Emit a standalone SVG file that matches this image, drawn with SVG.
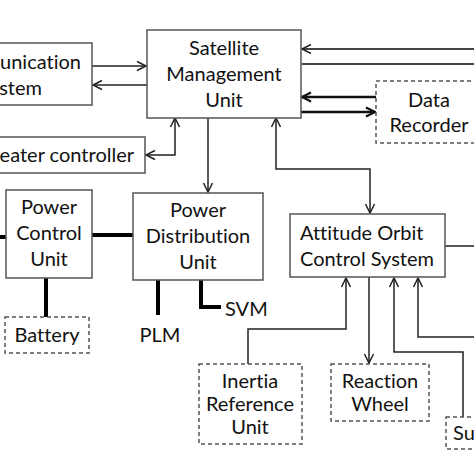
<svg xmlns="http://www.w3.org/2000/svg" width="474" height="474" viewBox="0 0 474 474">
<defs>
<marker id="ah" markerUnits="userSpaceOnUse" markerWidth="14" markerHeight="14" viewBox="0 0 14 14" refX="11" refY="6" orient="auto-start-reverse">
<path d="M2,1.5 L11,6 L2,10.5" fill="none" stroke="#222" stroke-width="1.5"/>
</marker>
<marker id="ahb" markerUnits="userSpaceOnUse" markerWidth="14" markerHeight="14" viewBox="0 0 14 14" refX="11" refY="6" orient="auto-start-reverse">
<path d="M2,1.5 L11,6 L2,10.5" fill="none" stroke="#111" stroke-width="2.2"/>
</marker>
</defs>
<style>
.box{fill:#fff;stroke:#555;stroke-width:1.5}
.dbox{fill:#fff;stroke:#555;stroke-width:1.5;stroke-dasharray:4 3}
.t{font-family:Lato,"Liberation Sans",sans-serif;font-size:20px;fill:#111;text-anchor:middle;font-variant-ligatures:none;font-feature-settings:"liga" 0}
.c{fill:none;stroke:#222;stroke-width:1.5}
.cb{fill:none;stroke:#111;stroke-width:2.4}
.cg{fill:none;stroke:#444;stroke-width:2}
.p{fill:none;stroke:#000;stroke-width:4}
</style>
<rect width="474" height="474" fill="#fff"/>
<g id="connectors">
<line class="c" x1="92" y1="66" x2="146" y2="66" marker-end="url(#ah)"/>
<line class="c" x1="147" y1="85" x2="93" y2="85" marker-end="url(#ah)"/>
<path class="c" d="M175,118 L175,155 L146,155" marker-start="url(#ah)" marker-end="url(#ah)"/>
<line class="c" x1="208" y1="118" x2="208" y2="192" marker-end="url(#ah)"/>
<line class="cg" x1="474" y1="49" x2="302" y2="49" marker-end="url(#ah)"/>
<line class="cg" x1="302" y1="64" x2="474" y2="64"/>
<line class="cb" x1="376" y1="97" x2="302" y2="97" marker-end="url(#ahb)"/>
<line class="cb" x1="301" y1="112" x2="375" y2="112" marker-end="url(#ahb)"/>
<path class="c" d="M276,118 L276,169 L370,169 L370,213" marker-start="url(#ah)" marker-end="url(#ah)"/>
<line class="c" x1="445" y1="246" x2="474" y2="246"/>
<path class="c" d="M248,364 L248,329 L346,329 L346,278" marker-end="url(#ah)"/>
<line class="c" x1="369" y1="277" x2="369" y2="363" marker-end="url(#ah)"/>
<path class="c" d="M463,417 L463,352 L394,352 L394,278" marker-end="url(#ah)"/>
<path class="c" d="M474,337 L418,337 L418,278" marker-end="url(#ah)"/>
<line class="p" x1="92" y1="235" x2="133" y2="235"/>
<line class="p" x1="0" y1="237" x2="6" y2="237"/>
<line class="p" x1="46" y1="278" x2="46" y2="317"/>
<line class="p" x1="158" y1="280" x2="158" y2="315"/>
<path class="p" d="M201,280 L201,307 L221,307"/>
</g>
<g id="comm">
<rect class="box" x="-60" y="43" width="152" height="62"/>
<text class="t" style="text-anchor:end" x="81" y="69">unication</text>
<text class="t" style="text-anchor:end" x="42" y="95">stem</text>
</g>
<g id="smu">
<rect class="box" x="147" y="30" width="154" height="88"/>
<text class="t" x="224" y="55">Satellite</text>
<text class="t" x="224" y="81">Management</text>
<text class="t" x="224" y="107">Unit</text>
</g>
<g id="heater">
<rect class="box" x="-60" y="137" width="205" height="36"/>
<text class="t" style="text-anchor:end" x="134" y="162">eater controller</text>
</g>
<g id="recorder">
<rect class="dbox" x="376" y="81" width="120" height="62"/>
<text class="t" x="429" y="107">Data</text>
<text class="t" x="429" y="132">Recorder</text>
</g>
<g id="pcu">
<rect class="box" x="6" y="190" width="86" height="88"/>
<text class="t" x="49" y="214">Power</text>
<text class="t" x="49" y="240">Control</text>
<text class="t" x="49" y="266">Unit</text>
</g>
<g id="pdu">
<rect class="box" x="133" y="193" width="130" height="87"/>
<text class="t" x="198" y="217">Power</text>
<text class="t" x="198" y="243">Distribution</text>
<text class="t" x="198" y="269">Unit</text>
</g>
<g id="battery">
<rect class="dbox" x="5" y="317" width="84" height="36"/>
<text class="t" x="47" y="342">Battery</text>
</g>
<g id="plm">
<text class="t" x="160" y="342">PLM</text>
</g>
<g id="svm">
<text class="t" style="text-anchor:start" x="225" y="316">SVM</text>
</g>
<g id="aocs">
<rect class="box" x="290" y="214" width="155" height="63"/>
<text class="t" style="text-anchor:start" x="300" y="240">Attitude Orbit</text>
<text class="t" style="text-anchor:start" x="300" y="266">Control System</text>
</g>
<g id="iru">
<rect class="dbox" x="199" y="364" width="103" height="80"/>
<text class="t" x="250" y="388">Inertia</text>
<text class="t" x="250" y="411">Reference</text>
<text class="t" x="250" y="434">Unit</text>
</g>
<g id="rw">
<rect class="dbox" x="331" y="364" width="98" height="57"/>
<text class="t" x="380" y="388">Reaction</text>
<text class="t" x="380" y="411">Wheel</text>
</g>
<g id="sun">
<rect class="dbox" x="446" y="417" width="60" height="32"/>
<text class="t" style="text-anchor:start" x="453" y="440">Su</text>
</g>
</svg>
